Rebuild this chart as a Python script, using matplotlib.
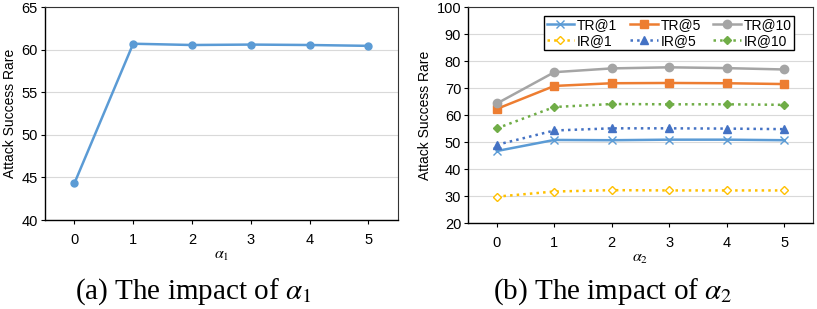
import matplotlib.pyplot as plt

# datos
alphas = [0, 1, 2, 3, 4, 5]
asr_alpha1 = [44.3, 60.7, 60.55, 60.6, 60.55, 60.45]

tr1 = [46.7, 50.8, 50.7, 50.9, 50.9, 50.7]
tr5 = [62.3, 70.8, 71.8, 71.9, 71.8, 71.5]
tr10 = [64.3, 75.9, 77.3, 77.7, 77.4, 76.9]
ir1 = [29.8, 31.7, 32.2, 32.1, 32.1, 32.1]
ir5 = [49.0, 54.3, 55.1, 55.1, 55.0, 54.8]
ir10 = [55.1, 63.0, 64.1, 64.0, 64.0, 63.8]

plt.rcParams['font.family'] = ['Liberation Sans', 'DejaVu Sans']
plt.rcParams['mathtext.fontset'] = 'stix'

fig = plt.figure(figsize=(8.17, 3.09), dpi=100)
ax1 = fig.add_axes([0.055, 0.288, 0.432, 0.689])
ax2 = fig.add_axes([0.573, 0.278, 0.422, 0.699])


def estilo(ax, ymin, ymax, paso, etiqueta):
    ax.set_xlim(-0.5, 5.5)
    ax.set_ylim(ymin, ymax)
    ax.set_xticks(alphas)
    ax.set_yticks(range(ymin, ymax + 1, paso))
    ax.grid(axis='y', color='#d9d9d9', linewidth=0.8)
    ax.set_axisbelow(True)
    ax.tick_params(labelsize=10.5, length=3, width=0.8, color='black', pad=2)
    ax.tick_params(axis='x', pad=6)
    for lado in ['left', 'bottom']:
        ax.spines[lado].set_color('black')
        ax.spines[lado].set_linewidth(1.0)
    for lado in ['top', 'right']:
        ax.spines[lado].set_color('#333333')
        ax.spines[lado].set_linewidth(0.8)
    ax.set_ylabel('Attack Success Rare', fontsize=10, labelpad=3)
    ax.set_xlabel(etiqueta, fontsize=11.5, labelpad=1)


ax1.plot(alphas, asr_alpha1, color='#5B9BD5', marker='o', markersize=5, linewidth=1.8)
estilo(ax1, 40, 65, 5, r'$\alpha_1$')

ax2.plot(alphas, tr1, color='#5B9BD5', marker='x', markersize=6, linewidth=1.8, label='TR@1')
ax2.plot(alphas, ir1, color='#FFC000', marker='D', markersize=4.5, markerfacecolor='white',
         linestyle=':', linewidth=1.8, label='IR@1')
ax2.plot(alphas, tr5, color='#ED7D31', marker='s', markersize=6, linewidth=1.8, label='TR@5')
ax2.plot(alphas, ir5, color='#4472C4', marker='^', markersize=6, linestyle=':', linewidth=1.8,
         label='IR@5')
ax2.plot(alphas, tr10, color='#A5A5A5', marker='o', markersize=6, linewidth=1.8, label='TR@10')
ax2.plot(alphas, ir10, color='#70AD47', marker='D', markersize=4, linestyle=':', linewidth=1.8,
         label='IR@10')
estilo(ax2, 20, 100, 10, r'$\alpha_2$')

leg = ax2.legend(ncol=3, loc='upper right', bbox_to_anchor=(0.945, 0.958), fontsize=10,
                 frameon=True, fancybox=False, edgecolor='black', framealpha=1,
                 handlelength=2.0, handletextpad=0.2, columnspacing=0.9,
                 labelspacing=0.1, borderpad=0.15, borderaxespad=0.0)
leg.get_frame().set_linewidth(1.0)

fig.text(0.236, 0.055, r'(a) The impact of $\alpha_1$', fontsize=21, family='Liberation Serif',
         ha='center', va='center')
fig.text(0.75, 0.055, r'(b) The impact of $\alpha_2$', fontsize=21, family='Liberation Serif',
         ha='center', va='center')

fig.savefig('out.png', dpi=100)
